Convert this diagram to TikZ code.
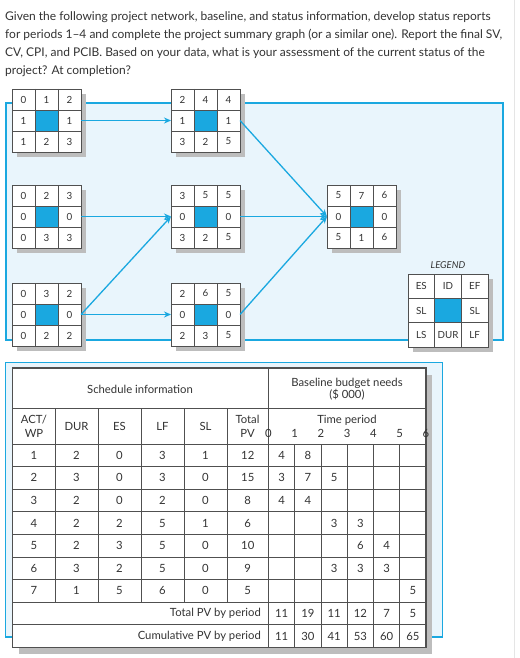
\documentclass[tikz,border=0pt]{standalone}
\usepackage{fontspec}
\setmainfont{Lato}
\usetikzlibrary{arrows.meta,shadows}
\definecolor{cyanb}{HTML}{1AA8E0}
\definecolor{lightbg}{HTML}{E9F5FC}
\definecolor{shadowgray}{HTML}{BDBDBD}
\definecolor{gridc}{HTML}{505050}
\definecolor{txt}{HTML}{333333}
\tikzset{
  actbox/.style={draw=gridc, fill=white, line width=0.7pt, minimum width=69pt, minimum height=63pt,
    inner sep=0pt, outer sep=0pt, anchor=north west,
    drop shadow={shadow xshift=5pt, shadow yshift=-5pt, fill=shadowgray, opacity=1}},
  gridline/.style={draw=gridc, line width=0.7pt},
  cell/.style={font=\fontsize{9.8}{10}\selectfont, text=txt, inner sep=0pt},
  tcell/.style={font=\fontsize{11.3}{12}\selectfont, text=txt, inner sep=0pt, align=center},
  link/.style={draw=cyanb, line width=1.3pt, -{Stealth[length=7pt,width=6pt]}},
  frame/.style={draw=cyanb, line width=1.2pt, fill=lightbg},
  tablebox/.style={draw=gridc, fill=white, line width=1.3pt, minimum width=413.5pt, minimum height=279.4pt,
    inner sep=0pt, outer sep=0pt, anchor=north west,
    drop shadow={shadow xshift=6pt, shadow yshift=-7pt, fill=shadowgray, opacity=1}},
}
\newcommand\actrow[7]{%
  \node[cell] (#1-#2a) at ({#3+11.5},{#4}) {#5};
  \node[cell] (#1-#2b) at ({#3+34.5},{#4}) {#6};
  \node[cell] (#1-#2c) at ({#3+57.5},{#4}) {#7};}
\newcommand\actmid[5]{%
  \node[cell] (#1-ml) at ({#2+11.5},{#3}) {#4};
  \node[cell] (#1-mr) at ({#2+57.5},{#3}) {#5};}
\newcommand\actbox[6]{%
  \node[actbox] (#1) at (#2,#3) {};
  \fill[cyanb] ({#2+23},{#3+21}) rectangle ({#2+46},{#3+42});
  \draw[gridline] ({#2+23},#3) -- ({#2+23},{#3+63}) ({#2+46},#3) -- ({#2+46},{#3+63})
     (#2,{#3+21}) -- ({#2+69},{#3+21}) (#2,{#3+42}) -- ({#2+69},{#3+42});
  \actrow{#1}{t}{#2}{#3+10.5}#4
  \actmid{#1}{#2}{#3+31.5}#5
  \actrow{#1}{b}{#2}{#3+52.5}#6
}
\begin{document}
\begin{tikzpicture}[x=1pt,y=-1pt]
\useasboundingbox (0,0) rectangle (519,658);
\fill[white] (0,0) rectangle (519,658);
\draw[gray!20, line width=1pt] (514,0) -- (514,658);

\node[anchor=north west, align=left, inner sep=0pt, text=txt,
  font=\fontsize{12}{18}\selectfont] (q) at (5,11.5)
 {Given the following project network, baseline, and status information, develop status reports\\
  for periods 1–4 and complete the project summary graph (or a similar one). Report the final SV,\\
  CV, CPI, and PCIB. Based on your data, what is your assessment of the current status of the\\
  project? At completion?};

% network
\draw[frame] (6,103) rectangle (503,340);
\actbox{n1}{12}{89}{{0}{1}{2}}{{1}{1}}{{1}{2}{3}}
\actbox{n2}{171}{89}{{2}{4}{4}}{{1}{1}}{{3}{2}{5}}
\actbox{n3}{12}{185}{{0}{2}{3}}{{0}{0}}{{0}{3}{3}}
\actbox{n4}{171}{185}{{3}{5}{5}}{{0}{0}}{{3}{2}{5}}
\actbox{n5}{327}{185}{{5}{7}{6}}{{0}{0}}{{5}{1}{6}}
\actbox{n6}{12}{283}{{0}{3}{2}}{{0}{0}}{{0}{2}{2}}
\actbox{n7}{171}{283}{{2}{6}{5}}{{0}{0}}{{2}{3}{5}}

\draw[link] (n1.east) -- (n2.west);
\draw[link] (n2.east) -- (n5.west);
\draw[link] (n3.east) -- (n4.west);
\draw[link] (n4.east) -- (n5.west);
\draw[link] (n6.east) -- (n4.west);
\draw[link] (n6.east) -- (n7.west);
\draw[link] (n7.east) -- (n5.west);

% legend
\node[font=\fontsize{9.5}{10}\selectfont\itshape, text=txt, inner sep=0pt] (legt) at (448,265) {LEGEND};
\node[actbox, minimum width=80pt, minimum height=73pt] (leg) at (408,274) {};
\fill[cyanb] (434.67,298.33) rectangle (461.33,322.67);
\draw[gridline] (434.67,274) -- (434.67,347) (461.33,274) -- (461.33,347)
   (408,298.33) -- (488,298.33) (408,322.67) -- (488,322.67);
\node[cell] (l1) at (421.3,286.2) {ES};
\node[cell] (l2) at (448,286.2) {ID};
\node[cell] (l3) at (474.7,286.2) {EF};
\node[cell] (l4) at (421.3,310.5) {SL};
\node[cell] (l5) at (474.7,310.5) {SL};
\node[cell] (l6) at (421.3,334.8) {LS};
\node[cell] (l7) at (448,334.8) {DUR};
\node[cell] (l8) at (474.7,334.8) {LF};

% table
\draw[frame] (5.5,362.5) rectangle (442.5,637);
\node[tablebox] (tbl) at (12.5,368) {};
\draw[gridline] (12.5,408) -- (426,408) (12.5,444) -- (426,444);
\foreach \k in {1,...,8} {\draw[gridline] (12.5,{444+22.6*\k}) -- (426,{444+22.6*\k});}
\foreach \x in {55,98,141,184,227} {\draw[gridline] (\x,408) -- (\x,602.2);}
\draw[gridline] (268.5,368) -- (268.5,647.4);
\foreach \c in {1,...,5} {\draw[gridline] ({268.5+26.25*\c},444) -- ({268.5+26.25*\c},647.4);}

\node[tcell] (h1) at (140,389) {Schedule information};
\node[tcell, font=\fontsize{11.3}{11}\selectfont] (h2) at (347,389) {Baseline budget needs\\(\$ 000)};
\node[tcell, font=\fontsize{11.3}{14}\selectfont] (c1) at (34,426) {ACT/\\WP};
\node[tcell] (c2) at (76.5,426) {DUR};
\node[tcell] (c3) at (119.5,426) {ES};
\node[tcell] (c4) at (162.5,426) {LF};
\node[tcell] (c5) at (205.5,426) {SL};
\node[tcell, font=\fontsize{11.3}{14}\selectfont] (c6) at (247.5,426) {Total\\PV};
\node[tcell] (tp) at (347,420) {Time period};
\foreach \n in {0,...,6} {\node[tcell] (tn\n) at ({268.5+26.25*\n},433) {\n};}

\foreach \r/\a/\b/\c/\d/\e/\f in {1/1/2/0/3/1/12, 2/2/3/0/3/0/15, 3/3/2/0/2/0/8, 4/4/2/2/5/1/6,
   5/5/2/3/5/0/10, 6/6/3/2/5/0/9, 7/7/1/5/6/0/5} {
  \node[tcell] (s\r a) at (34,{444+22.6*(\r-0.5)}) {\a};
  \node[tcell] (s\r b) at (76.5,{444+22.6*(\r-0.5)}) {\b};
  \node[tcell] (s\r c) at (119.5,{444+22.6*(\r-0.5)}) {\c};
  \node[tcell] (s\r d) at (162.5,{444+22.6*(\r-0.5)}) {\d};
  \node[tcell] (s\r e) at (205.5,{444+22.6*(\r-0.5)}) {\e};
  \node[tcell] (s\r f) at (247.75,{444+22.6*(\r-0.5)}) {\f};
}
\foreach \r/\c/\v in {1/1/4,1/2/8,2/1/3,2/2/7,2/3/5,3/1/4,3/2/4,4/3/3,4/4/3,5/4/6,5/5/4,
   6/3/3,6/4/3,6/5/3,7/6/5} {
  \node[tcell] (b\r-\c) at ({268.5+26.25*(\c-0.5)},{444+22.6*(\r-0.5)}) {\v};
}
\node[tcell, anchor=east] (tpv) at (261,{444+22.6*7.5}) {Total PV by period};
\node[tcell, anchor=east] (cpv) at (261,{444+22.6*8.5}) {Cumulative PV by period};
\foreach \v [count=\c] in {11,19,11,12,7,5} {
  \node[tcell] (t\c) at ({268.5+26.25*(\c-0.5)},{444+22.6*7.5}) {\v};}
\foreach \v [count=\c] in {11,30,41,53,60,65} {
  \node[tcell] (u\c) at ({268.5+26.25*(\c-0.5)},{444+22.6*8.5}) {\v};}
\end{tikzpicture}
\end{document}
